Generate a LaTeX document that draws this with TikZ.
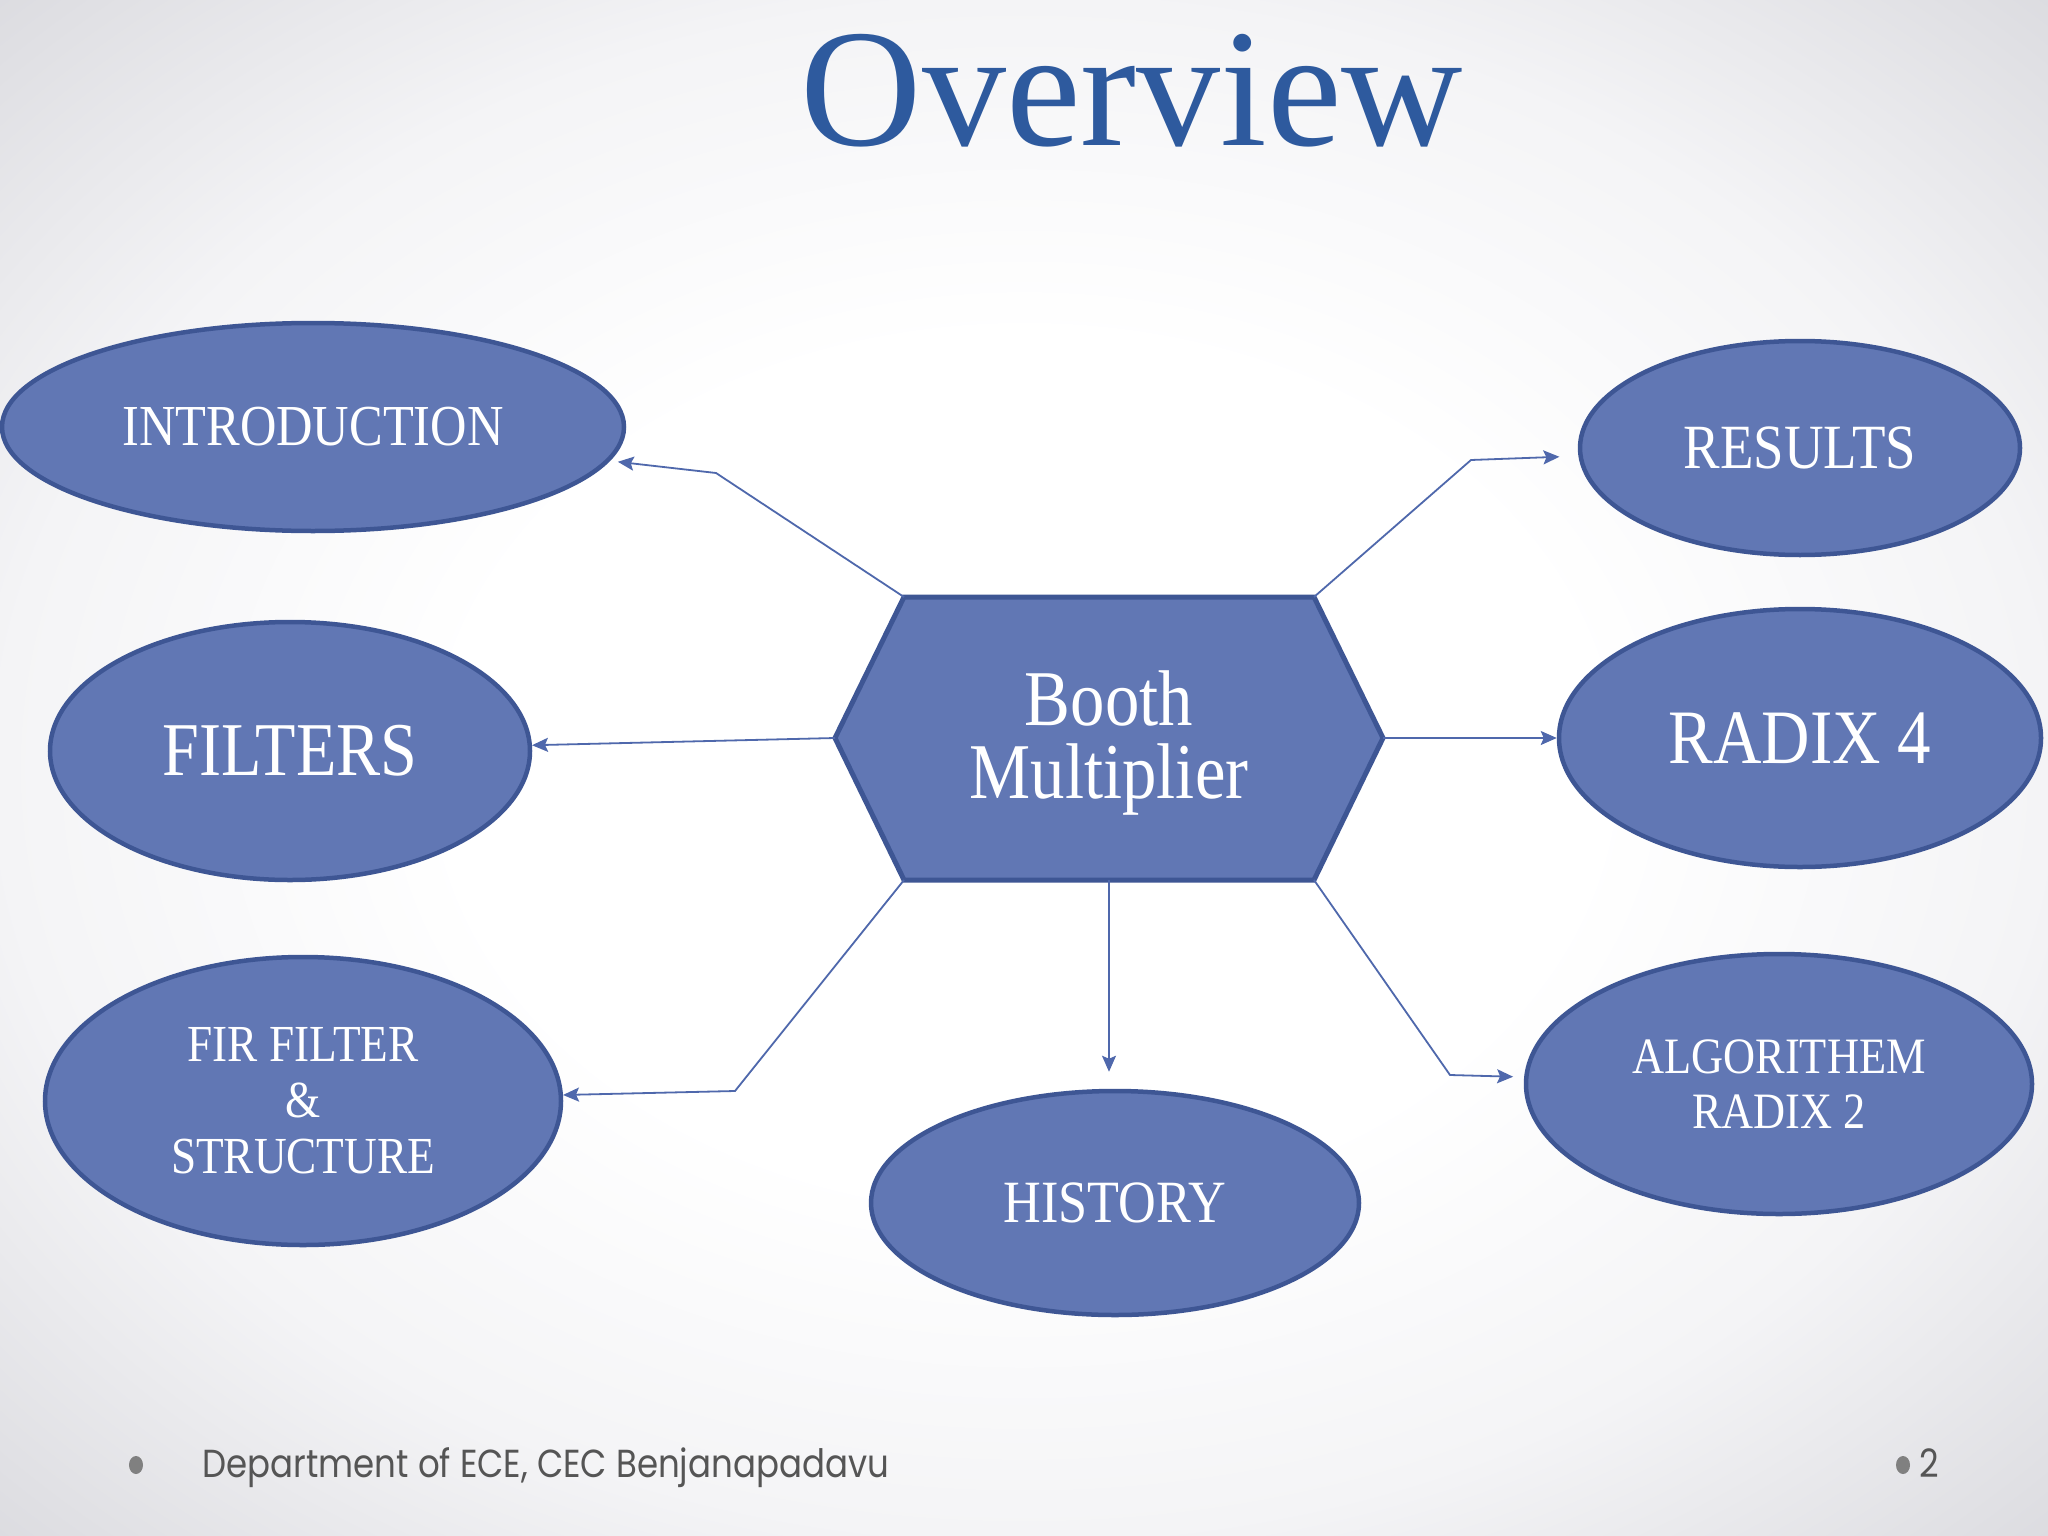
\documentclass[tikz,border=0pt]{standalone}
\usepackage{fontspec}
\setmainfont{Liberation Serif}[FakeStretch=0.87]
\newfontfamily\titlefont{Liberation Serif}
\newfontfamily\footfont{Poppins}[FakeStretch=0.87]
\usetikzlibrary{shapes.geometric,arrows.meta}
\definecolor{nodefill}{RGB}{97,119,180}
\definecolor{nodeborder}{RGB}{62,86,148}
\definecolor{linkcol}{RGB}{79,104,172}
\definecolor{titleblue}{RGB}{46,90,158}
\definecolor{footgray}{RGB}{85,85,85}
\definecolor{bulletgray}{RGB}{128,128,128}
\definecolor{bgmid}{RGB}{244,244,246}
\definecolor{bgout}{RGB}{214,214,219}
\pgfdeclareradialshading{slidebg}{\pgfpoint{0bp}{0bp}}{color(0bp)=(white); color(14bp)=(white); color(25bp)=(bgmid); color(38bp)=(bgout); color(50bp)=(bgout)}
\tikzset{
  oval/.style={ellipse, draw=nodeborder, fill=nodefill, line width=4.5pt, inner sep=0pt,
    text=white, align=center},
  link/.style={draw=linkcol, line width=1.8pt, -{Stealth[length=16pt,width=14pt,inset=3pt]}},
  hexshape/.style={draw=nodeborder, fill=nodefill, line width=5pt, line join=miter},
  bulletdot/.style={ellipse, fill=bulletgray, inner sep=0pt, minimum width=14, minimum height=18},
  foot/.style={font=\footfont\fontsize{39.1}{42}\selectfont, text=footgray}
}
\begin{document}
\begin{tikzpicture}[x=1pt,y=-1pt]
\shade[shading=slidebg] (0,0) rectangle (2048,1536);
\useasboundingbox (0,0) rectangle (2048,1536);

% title
\node[anchor=base, font=\titlefont\fontsize{168}{170}\selectfont, text=titleblue] (title) at (1132,146) {Overview};

% hexagon
\coordinate (hTL) at (904,597);
\coordinate (hTR) at (1314,597);
\coordinate (hR) at (1383,738);
\coordinate (hBR) at (1314,880);
\coordinate (hBL) at (904,880);
\coordinate (hL) at (835,738);
\path[hexshape] (hTL) -- (hTR) -- (hR) -- (hBR) -- (hBL) -- (hL) -- cycle;
\node[text=white, align=center, font=\fontsize{79}{73}\selectfont] (booth) at (1109,743) {Booth\\Multiplier};

% ellipses
\node[oval, minimum width=622, minimum height=208, font=\fontsize{58}{60}\selectfont] (intro) at (313,427) {INTRODUCTION};
\node[oval, minimum width=480, minimum height=258, font=\fontsize{76}{78}\selectfont] (filters) at (290,751) {FILTERS};
\node[oval, minimum width=516, minimum height=288, font=\fontsize{52}{56}\selectfont] (fir) at (303,1101) {FIR FILTER\\\&\\STRUCTURE};
\node[oval, minimum width=488, minimum height=224, font=\fontsize{60}{62}\selectfont] (history) at (1115,1203) {HISTORY};
\node[oval, minimum width=440, minimum height=214, font=\fontsize{63}{65}\selectfont] (results) at (1800,448) {RESULTS};
\node[oval, minimum width=482, minimum height=258, font=\fontsize{77}{79}\selectfont] (radix4) at (1800,738) {RADIX 4};
\node[oval, minimum width=506, minimum height=260, font=\fontsize{51}{55}\selectfont] (algo) at (1779,1084) {ALGORITHEM\\RADIX 2};

% connectors
\coordinate (b1) at (716,473);
\coordinate (b3) at (735,1091);
\coordinate (b5) at (1471,460);
\coordinate (b7) at (1450,1075);
\draw[link, shorten >=8pt] (hTL) -- (b1) -- (intro);
\draw[link] (hL) -- (filters);
\draw[link] (hBL) -- (b3) -- (fir);
\draw[link, shorten >=17pt] (hBL -| booth) -- (booth |- history.north);
\draw[link, shorten >=19pt] (hTR) -- (b5) -- (results);
\draw[link] (hR) -- (radix4);
\draw[link, shorten >=11pt] (hBR) -- (b7) -- (algo);

% footer
\node[bulletdot] (fb1) at (136,1465) {};
\node[anchor=base west, foot] (dept) at (199,1477) {Department of ECE, CEC Benjanapadavu};
\node[bulletdot] (fb2) at (1903,1465) {};
\node[anchor=base, foot] (pagenum) at (1929,1477) {2};
\end{tikzpicture}
\end{document}
